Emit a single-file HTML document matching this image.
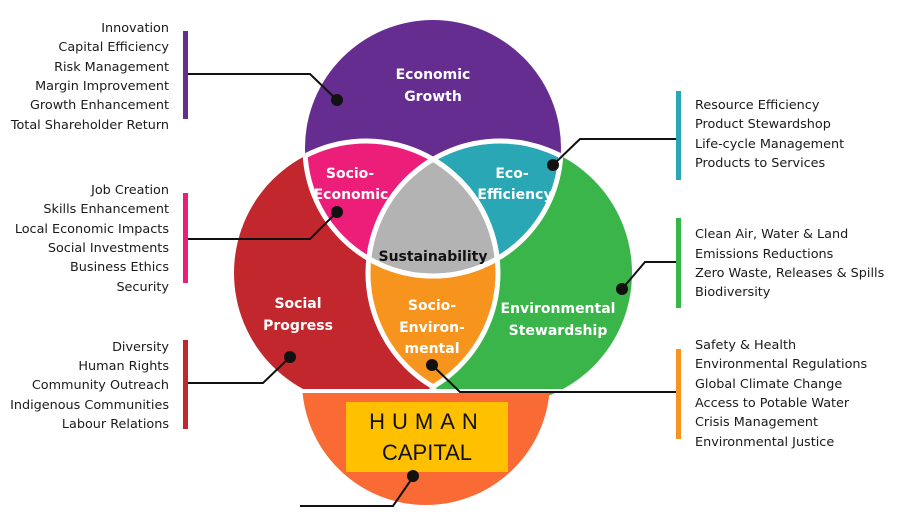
<!DOCTYPE html>
<html><head><meta charset="utf-8"><style>
html,body{margin:0;padding:0;background:#fff;}
svg{display:block;}
.l{font-family:"DejaVu Sans","Liberation Sans",sans-serif;font-size:12.8px;fill:#1a1a1a;}
.w{font-family:"DejaVu Sans","Liberation Sans",sans-serif;font-size:14px;font-weight:bold;fill:#fff;}
</style></head><body>
<svg width="908" height="521" viewBox="0 0 908 521" xmlns="http://www.w3.org/2000/svg">
<defs>
<clipPath id="cp"><circle cx="433" cy="148" r="128"/></clipPath>
<clipPath id="cr"><circle cx="366" cy="273" r="132"/></clipPath>
<clipPath id="cg"><circle cx="500" cy="273" r="132"/></clipPath>
<clipPath id="top"><rect x="0" y="393" width="908" height="200"/></clipPath>
</defs>
<circle cx="433" cy="148" r="128" fill="#662D91"/>
<circle cx="366" cy="273" r="132" fill="#C1272D"/>
<circle cx="500" cy="273" r="132" fill="#39B54A"/>
<circle cx="366" cy="273" r="132" fill="#EC1E79" clip-path="url(#cp)"/>
<circle cx="500" cy="273" r="132" fill="#2AA7B5" clip-path="url(#cp)"/>
<circle cx="500" cy="273" r="132" fill="#F7941D" clip-path="url(#cr)"/>
<g clip-path="url(#cr)"><circle cx="433" cy="148" r="128" fill="#B3B3B3" clip-path="url(#cg)"/></g>
<g fill="none" stroke="#fff" stroke-width="5">
<circle cx="433" cy="148" r="128" clip-path="url(#cr)"/>
<circle cx="433" cy="148" r="128" clip-path="url(#cg)"/>
<circle cx="366" cy="273" r="132" clip-path="url(#cp)"/>
<circle cx="366" cy="273" r="132" clip-path="url(#cg)"/>
<circle cx="500" cy="273" r="132" clip-path="url(#cp)"/>
<circle cx="500" cy="273" r="132" clip-path="url(#cr)"/>
</g>
<rect x="290" y="389" width="280" height="4" fill="#fff"/>
<circle cx="426" cy="381" r="124" fill="#FA6A35" clip-path="url(#top)"/>
<rect x="346" y="402" width="162" height="70" fill="#FFC000"/>
<text x="427" y="429" text-anchor="middle" font-family="Liberation Sans,sans-serif" font-size="22" letter-spacing="7" fill="#111">HUMAN</text>
<text x="427" y="460" text-anchor="middle" font-family="Liberation Sans,sans-serif" font-size="22" fill="#111">CAPITAL</text>

<text class="w" text-anchor="middle"><tspan x="433" y="79">Economic</tspan><tspan x="433" y="101">Growth</tspan></text>
<text class="w" text-anchor="middle"><tspan x="350" y="178">Socio-</tspan><tspan x="351" y="199">Economic</tspan></text>
<text class="w" text-anchor="middle"><tspan x="512" y="178">Eco-</tspan><tspan x="515" y="199">Efficiency</tspan></text>
<text class="w" text-anchor="middle"><tspan x="298" y="308">Social</tspan><tspan x="298" y="330">Progress</tspan></text>
<text class="w" text-anchor="middle"><tspan x="558" y="313">Environmental</tspan><tspan x="558" y="335">Stewardship</tspan></text>
<text class="w" text-anchor="middle"><tspan x="432" y="310">Socio-</tspan><tspan x="432" y="332">Environ-</tspan><tspan x="432" y="353">mental</tspan></text>
<text x="433" y="261" text-anchor="middle" font-family="DejaVu Sans,sans-serif" font-size="14" font-weight="bold" fill="#111">Sustainability</text>

<rect x="183" y="31" width="5" height="88" fill="#662D91"/>
<rect x="183" y="193" width="5" height="90" fill="#EC1E79"/>
<rect x="183" y="340" width="5" height="89" fill="#C1272D"/>
<rect x="676" y="91" width="5" height="89" fill="#2AA7B5"/>
<rect x="676" y="218" width="5" height="90" fill="#39B54A"/>
<rect x="676" y="349" width="5" height="90" fill="#F7941D"/>

<g fill="none" stroke="#111" stroke-width="2">
<polyline points="188,74 310,74 337,100"/>
<polyline points="188,239 310,239 337,212"/>
<polyline points="188,383 263,383 290,357"/>
<polyline points="676,139 580,139 553,165"/>
<polyline points="676,262 645,262 622,289"/>
<polyline points="676,392 460,392 432,365"/>
<polyline points="300,506 393,506 413,477"/>
</g>
<g fill="#111">
<circle cx="337" cy="100" r="6"/><circle cx="337" cy="212" r="6"/><circle cx="290" cy="357" r="6"/>
<circle cx="553" cy="165" r="6"/><circle cx="622" cy="289" r="6"/><circle cx="432" cy="365" r="6"/>
<circle cx="413" cy="476" r="6"/>
</g>

<text class="l" text-anchor="end">
<tspan x="169" y="32">Innovation</tspan><tspan x="169" y="51">Capital Efficiency</tspan><tspan x="169" y="71">Risk Management</tspan><tspan x="169" y="90">Margin Improvement</tspan><tspan x="169" y="109">Growth Enhancement</tspan><tspan x="169" y="129">Total Shareholder Return</tspan>
</text>
<text class="l" text-anchor="end">
<tspan x="169" y="194">Job Creation</tspan><tspan x="169" y="213">Skills Enhancement</tspan><tspan x="169" y="233">Local Economic Impacts</tspan><tspan x="169" y="252">Social Investments</tspan><tspan x="169" y="271">Business Ethics</tspan><tspan x="169" y="291">Security</tspan>
</text>
<text class="l" text-anchor="end">
<tspan x="169" y="351">Diversity</tspan><tspan x="169" y="370">Human Rights</tspan><tspan x="169" y="389">Community Outreach</tspan><tspan x="169" y="409">Indigenous Communities</tspan><tspan x="169" y="428">Labour Relations</tspan>
</text>
<text class="l">
<tspan x="695" y="109">Resource Efficiency</tspan><tspan x="695" y="128">Product Stewardshop</tspan><tspan x="695" y="148">Life-cycle Management</tspan><tspan x="695" y="167">Products to Services</tspan>
</text>
<text class="l">
<tspan x="695" y="238">Clean Air, Water &amp; Land</tspan><tspan x="695" y="258">Emissions Reductions</tspan><tspan x="695" y="277">Zero Waste, Releases &amp; Spills</tspan><tspan x="695" y="296">Biodiversity</tspan>
</text>
<text class="l">
<tspan x="695" y="349">Safety &amp; Health</tspan><tspan x="695" y="368">Environmental Regulations</tspan><tspan x="695" y="388">Global Climate Change</tspan><tspan x="695" y="407">Access to Potable Water</tspan><tspan x="695" y="426">Crisis Management</tspan><tspan x="695" y="446">Environmental Justice</tspan>
</text>
</svg>
</body></html>
